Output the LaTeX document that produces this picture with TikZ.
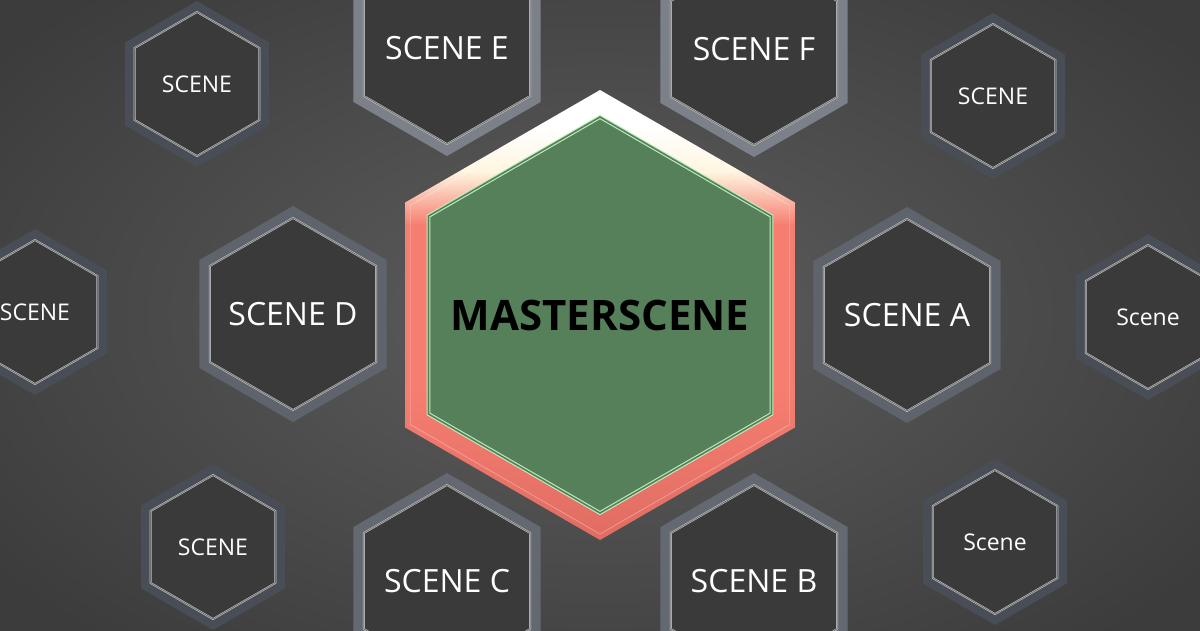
\documentclass[tikz,border=0pt]{standalone}
\usepackage{fontspec}
\setmainfont{Open Sans}

\definecolor{fondclair}{RGB}{94,94,94}
\definecolor{fondsombre}{RGB}{60,60,60}
\definecolor{ardoise}{RGB}{58,58,58}
\definecolor{bordclair}{RGB}{205,205,205}
\definecolor{bordfonce}{RGB}{110,110,110}
\definecolor{bandehaute}{RGB}{124,128,136}
\definecolor{bandemoyenne}{RGB}{94,99,108}
\definecolor{bandebasse}{RGB}{100,104,112}
\definecolor{bandepetite}{RGB}{72,77,86}
\definecolor{vert}{RGB}{86,128,90}
\definecolor{vertclair}{RGB}{190,238,190}
\definecolor{saumon}{RGB}{246,126,113}
\definecolor{rougefonce}{RGB}{224,108,98}
\definecolor{creme}{RGB}{255,246,225}

\pgfdeclareverticalshading{bandemaitre}{100bp}{color(0bp)=(rougefonce); color(25bp)=(rougefonce); color(42bp)=(saumon); color(60bp)=(saumon); color(66bp)=(creme); color(71bp)=(white); color(100bp)=(white)}

% hexagone pointe en haut : centre, rayon, style
\newcommand{\hexagone}[3]{\path[#3] (#1) +(90:#2) -- +(30:#2) -- +(-30:#2) -- +(-90:#2) -- +(-150:#2) -- +(150:#2) -- cycle;}

\begin{document}
\begin{tikzpicture}[x=1pt,y=-1pt]
	\tikzstyle{scene}=[fill=ardoise,draw=bordclair,double=bordfonce,double distance=0.8pt,line width=0.5pt]
	\tikzstyle{grande}=[text=white,font=\fontsize{32}{36}\selectfont]
	\tikzstyle{petite}=[text=white,font=\fontsize{23}{27}\selectfont]
	
	\def\RayonMaitreBande{225}
	\def\RayonMaitre{198}
	\def\RayonGrandeBande{108}
	\def\RayonGrande{96}
	\def\RayonPetiteBande{83}
	\def\RayonPetite{72}
	
	\clip (0,0) rectangle (1200,630);
	\shade[inner color=fondclair,outer color=fondsombre] (-150,-120) rectangle (1350,750);
	
	% centres
	\coordinate (M) at (600,315);
	\coordinate (E) at (447,48);
	\coordinate (F) at (754,49);
	\coordinate (D) at (293,314);
	\coordinate (A) at (907,315);
	\coordinate (C) at (447,581);
	\coordinate (B) at (754,581);
	\coordinate (HG) at (197,84);
	\coordinate (HD) at (993,96);
	\coordinate (G) at (35,312);
	\coordinate (R) at (1148,317);
	\coordinate (BG) at (213,547);
	\coordinate (BD) at (995,542);
	
	% maitre
	\hexagone{M}{\RayonMaitreBande}{shade,shading=bandemaitre}
	\hexagone{M}{219}{draw=white,draw opacity=0.3,line width=0.8pt}
	\hexagone{M}{\RayonMaitre}{fill=vert,draw=vertclair,double=vert,double distance=1.6pt,line width=1.1pt}
	\node[text=black,font=\bfseries\fontsize{42}{46}\selectfont] (Mt) at (M) {MASTERSCENE};
	
	% grandes
	\hexagone{E}{\RayonGrandeBande}{fill=bandehaute}
	\hexagone{E}{\RayonGrande}{scene}
	\node[grande] (Et) at (E) {SCENE E};
	\hexagone{F}{\RayonGrandeBande}{fill=bandehaute}
	\hexagone{F}{\RayonGrande}{scene}
	\node[grande] (Ft) at (F) {SCENE F};
	\hexagone{D}{\RayonGrandeBande}{fill=bandemoyenne}
	\hexagone{D}{\RayonGrande}{scene}
	\node[grande] (Dt) at (D) {SCENE D};
	\hexagone{A}{\RayonGrandeBande}{fill=bandemoyenne}
	\hexagone{A}{\RayonGrande}{scene}
	\node[grande] (At) at (A) {SCENE A};
	\hexagone{C}{\RayonGrandeBande}{fill=bandebasse}
	\hexagone{C}{\RayonGrande}{scene}
	\node[grande] (Ct) at (C) {SCENE C};
	\hexagone{B}{\RayonGrandeBande}{fill=bandebasse}
	\hexagone{B}{\RayonGrande}{scene}
	\node[grande] (Bt) at (B) {SCENE B};
	
	% petites
	\hexagone{HG}{\RayonPetiteBande}{fill=bandepetite}
	\hexagone{HG}{\RayonPetite}{scene}
	\node[petite] (HGt) at (HG) {SCENE};
	\hexagone{HD}{\RayonPetiteBande}{fill=bandepetite}
	\hexagone{HD}{\RayonPetite}{scene}
	\node[petite] (HDt) at (HD) {SCENE};
	\hexagone{G}{\RayonPetiteBande}{fill=bandepetite}
	\hexagone{G}{\RayonPetite}{scene}
	\node[petite] (Gt) at (G) {SCENE};
	\hexagone{R}{\RayonPetiteBande}{fill=bandepetite}
	\hexagone{R}{\RayonPetite}{scene}
	\node[petite] (Rt) at (R) {Scene};
	\hexagone{BG}{\RayonPetiteBande}{fill=bandepetite}
	\hexagone{BG}{\RayonPetite}{scene}
	\node[petite] (BGt) at (BG) {SCENE};
	\hexagone{BD}{\RayonPetiteBande}{fill=bandepetite}
	\hexagone{BD}{\RayonPetite}{scene}
	\node[petite] (BDt) at (BD) {Scene};
\end{tikzpicture}
\end{document}
